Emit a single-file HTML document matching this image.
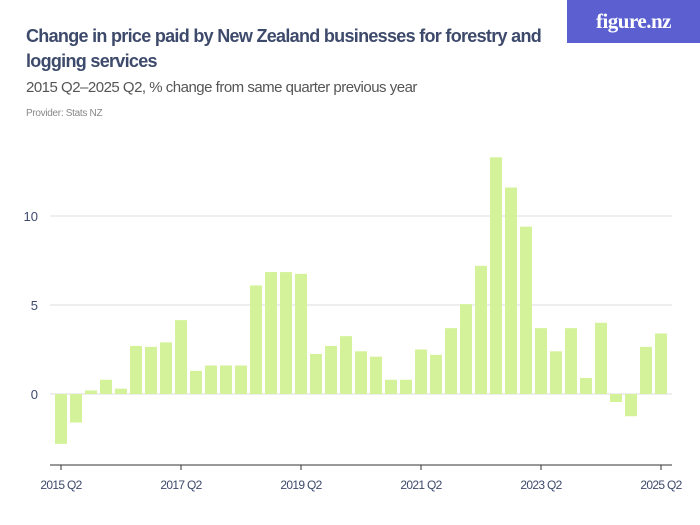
<!DOCTYPE html>
<html><head><meta charset="utf-8"><style>
body{margin:0;background:#fff;font-family:"Liberation Sans",sans-serif;}
#wrap{position:relative;width:700px;height:525px;overflow:hidden;}
.t{position:absolute;color:#3d4a6b;white-space:nowrap;}
</style></head><body>
<div id="wrap">
<div class="t" style="left:26px;top:24px;font-size:18px;font-weight:bold;line-height:25px;letter-spacing:-0.7px">Change in price paid by New Zealand businesses for forestry and<br>logging services</div>
<div class="t" style="left:26px;top:79px;font-size:15px;color:#555;letter-spacing:-0.5px">2015 Q2–2025 Q2, % change from same quarter previous year</div>
<div class="t" style="left:26px;top:108px;font-size:10px;color:#888;letter-spacing:-0.3px">Provider: Stats NZ</div>
<div style="position:absolute;left:567px;top:0;width:133px;height:43px;background:#5b5fcf;color:#fff;font-family:'Liberation Serif',serif;font-size:21px;font-weight:bold;line-height:43px;text-align:center;letter-spacing:-0.5px">figure.nz</div>
<svg id="svg" width="700" height="525" style="position:absolute;left:0;top:0"></svg>
</div>
<script>
const categories=[];for(let y=2015,q=2;categories.length<41;){categories.push(y+" Q"+q);q++;if(q>4){q=1;y++;}}
const values=[-2.8,-1.6,0.2,0.8,0.3,2.7,2.65,2.9,4.15,1.3,1.6,1.6,1.6,6.1,6.85,6.85,6.75,2.25,2.7,3.25,2.4,2.1,0.8,0.8,2.5,2.2,3.7,5.05,7.2,13.3,11.6,9.4,3.7,2.4,3.7,0.9,4.0,-0.45,-1.25,2.65,3.4];
const yTicks=[0,5,10];
const xTickLabels=["2015 Q2","2017 Q2","2019 Q2","2021 Q2","2023 Q2","2025 Q2"];
const svg=document.getElementById('svg');const NS="http://www.w3.org/2000/svg";
const yS=v=>394-v*17.8;
const xS=i=>61+i*15;
function mk(t,a){const e=document.createElementNS(NS,t);for(const k in a)e.setAttribute(k,a[k]);svg.appendChild(e);return e;}
yTicks.forEach(v=>{
 const l=mk('line',{x1:50,x2:672,y1:yS(v),y2:yS(v),stroke:'#ddd','stroke-width':1});
 
 
 const t=mk('text',{x:38,y:yS(v)+5,'text-anchor':'end','font-size':13,fill:'#3d4a6b','font-family':'Liberation Sans, sans-serif'});t.textContent=v;
 
 
});
values.forEach((v,i)=>{
 const y0=yS(0),y1=yS(v);
 const r=mk('rect',{x:xS(i)-6,y:Math.min(y0,y1),width:12,height:Math.abs(y1-y0),fill:'#d4f29a'});
 
 
});
const ax=mk('line',{x1:50,x2:672,y1:465,y2:465,stroke:'#333','stroke-width':1});


xTickLabels.forEach(lb=>{
 const i=categories.indexOf(lb);const x=xS(i);
 const tk=mk('line',{x1:x,x2:x,y1:465,y2:470,stroke:'#333'});
 
 
 const t=mk('text',{x:x,y:489,'text-anchor':'middle','font-size':12,fill:'#3d4a6b','font-family':'Liberation Sans, sans-serif','letter-spacing':'-0.7'});t.textContent=lb;
 
 
});
</script>
</body></html>
